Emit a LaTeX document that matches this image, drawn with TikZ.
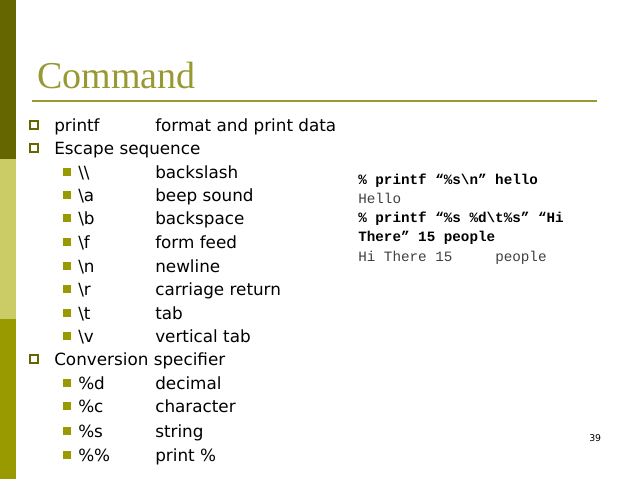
\documentclass[tikz,border=0pt]{standalone}
\usepackage{fontspec}
\setmainfont{DejaVu Sans}
\newfontfamily\titlefont{Liberation Serif}
\newfontfamily\codefont{Liberation Mono}
\definecolor{darkol}{HTML}{666600}
\definecolor{lightol}{HTML}{CCCC66}
\definecolor{midol}{HTML}{999900}
\definecolor{titleol}{HTML}{999933}
\begin{document}
\begin{tikzpicture}[x=0.75pt,y=-0.75pt,
  txt/.style={anchor=base west,inner sep=0pt,font=\fontsize{12.6}{15}\selectfont},
  code/.style={anchor=base west,inner sep=0pt,font=\codefont\fontsize{10.7}{12}\selectfont},
  codeb/.style={code,font=\codefont\bfseries\fontsize{10.7}{12}\selectfont},
  boxb/.style={draw=darkol,line width=1.3pt,minimum size=6pt,inner sep=0pt},
  fillb/.style={fill=midol,minimum size=6pt,inner sep=0pt}]
\useasboundingbox (0,0) rectangle (638,479);
\fill[white] (0,0) rectangle (638,479);
\fill[darkol] (0,0) rectangle (16,159);
\fill[lightol] (0,159) rectangle (16,319);
\fill[midol] (0,319) rectangle (16,479);
\node[anchor=base west,inner sep=0pt,text=titleol,font=\titlefont\fontsize{28.5}{32}\selectfont] (title) at (37,88) {Command};
\draw[titleol,line width=1.5pt] (32,101) -- (597,101);
% level 1
\foreach \y/\a/\b [count=\i] in {131/printf/format and print data,154/Escape sequence/,365/Conversion specifier/}{
  \node[boxb] (b\i) at (34,\y-6) {};
  \node[txt] (t\i) at (54,\y) {\a};
  \node[txt] (d\i) at (155,\y) {\b};
}
% level 2
\foreach \y/\a/\b [count=\i] in {178/{\textbackslash\textbackslash}/backslash,201/\textbackslash a/beep sound,224/\textbackslash b/backspace,248/\textbackslash f/form feed,272/\textbackslash n/newline,295/\textbackslash r/carriage return,319/\textbackslash t/tab,342/\textbackslash v/vertical tab,389/\%d/decimal,412/\%c/character,437/\%s/string,461/\%\%/print \%}{
  \node[fillb] (s\i) at (67,\y-6) {};
  \node[txt] (u\i) at (78,\y) {\a};
  \node[txt] (v\i) at (155,\y) {\b};
}
\node[codeb] (c1) at (358,184) {\% printf “\%s\textbackslash n” hello};
\node[code,text=black!75] (c2) at (358,203) {Hello};
\node[codeb] (c3) at (358,222) {\% printf “\%s \%d\textbackslash t\%s” “Hi};
\node[codeb] (c4) at (358,241) {There” 15 people};
\node[code,text=black!75] (c5) at (358,261) {Hi There 15\ \ \ \ \ people};
\node[anchor=base west,inner sep=0pt,font=\fontsize{7}{8}\selectfont] (pg) at (589,441) {39};
\end{tikzpicture}
\end{document}
